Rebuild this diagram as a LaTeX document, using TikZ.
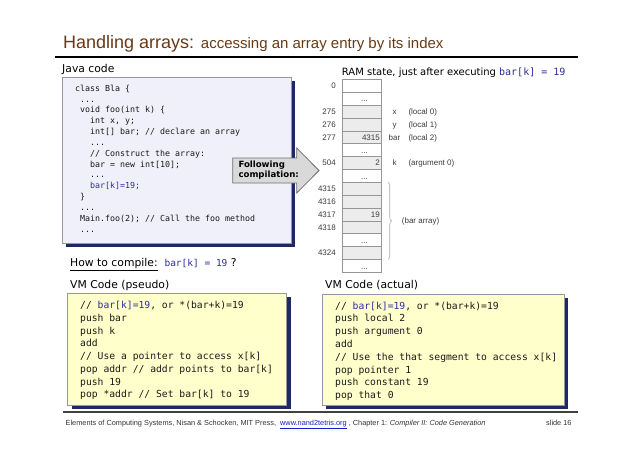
\documentclass[tikz,border=0pt]{standalone}
\usepackage{fontspec}
\setmainfont{Liberation Sans}
\newfontfamily\comicf{DejaVu Sans}
\newfontfamily\monof{DejaVu Sans Mono}
\usetikzlibrary{decorations.pathreplacing}
\newcommand\threedots{...}
\definecolor{titlebrown}{RGB}{105,58,22}
\definecolor{codeblue}{RGB}{45,45,150}
\definecolor{javafill}{RGB}{240,240,250}
\definecolor{yelfill}{RGB}{255,255,204}
\definecolor{navy}{RGB}{30,40,100}
\definecolor{boxborder}{RGB}{150,150,165}
\definecolor{cellg}{RGB}{236,236,236}
\definecolor{cellb}{RGB}{150,150,150}
\definecolor{ramtext}{RGB}{60,60,60}
\definecolor{linkblue}{RGB}{30,30,200}
\definecolor{arrowfill}{RGB}{217,217,217}
\definecolor{arrowdraw}{RGB}{110,110,110}
\begin{document}
\begin{tikzpicture}[x=1pt,y=-1pt,
  txt/.style={inner sep=0pt, anchor=base west},
  comic/.style={txt, font=\comicf\fontsize{10.8}{13}\selectfont},
  jcode/.style={txt, text=black!90, font=\monof\fontsize{8.3}{10}\selectfont},
  vcode/.style={txt, text=black!90, font=\monof\fontsize{9.7}{12}\selectfont},
  ram/.style={inner sep=0pt, text=ramtext, font=\fontsize{8}{9.6}\selectfont},
  cell/.style={draw=cellb, line width=0.5pt, minimum width=38.6pt, minimum height=12.87pt, inner sep=0pt},
  shadowbox/.style={fill=navy, draw=none},
  codebox/.style={draw=boxborder, line width=0.8pt}
]
\useasboundingbox (0,0) rectangle (638,451);
\fill[white] (0,0) rectangle (638,451);

% Title
\node[txt, text=titlebrown] (title) at (63,48)
  {\fontsize{18}{21}\selectfont Handling arrays: \fontsize{15}{18}\selectfont accessing an array entry by its index};
\draw[line width=1.5pt] (55,57) -- (578,57);

% Java code
\node[comic] (javalbl) at (62,72) {Java code};
\fill[shadowbox] (66.2,80.8) rectangle (294.5,246.8);
\filldraw[codebox, fill=javafill] (62.7,77.3) rectangle (291,243.3);
\foreach \t [count=\i] in {
  {class Bla \{},
  {\hphantom{x}\threedots},
  {\hphantom{x}void foo(int k) \{},
  {\hphantom{xxx}int x, y;},
  {\hphantom{xxx}int[] bar; // declare an array},
  {\hphantom{xxx}\threedots},
  {\hphantom{xxx}// Construct the array:},
  {\hphantom{xxx}bar = new int[10];},
  {\hphantom{xxx}\threedots},
  {\hphantom{xxx}\textcolor{codeblue}{bar[k]=19;}},
  {\hphantom{x}\}},
  {\hphantom{x}\threedots},
  {\hphantom{x}Main.foo(2); // Call the foo method},
  {\hphantom{x}\threedots}}
  \node[jcode] (j\i) at (75,{91.3+(\i-1)*10.83}) {\t};

% Arrow
\filldraw[fill=arrowfill, draw=arrowdraw, line width=0.8pt]
  (232.7,158) -- (296.7,158) -- (296.7,148) -- (319,170.5) -- (296.7,193) -- (296.7,183) -- (232.7,183) -- cycle;
\node[txt, anchor=north west, align=left, font=\comicf\bfseries\fontsize{8.6}{10.7}\selectfont] (follow) at (238.3,160.5)
  {Following\\compilation:};

% RAM state
\node[txt, font=\comicf\fontsize{10}{12}\selectfont] (ramlbl) at (341.7,75.2)
  {RAM state, just after executing \textcolor{codeblue}{\monof\fontsize{10}{12}\selectfont bar[k] = 19}};
\foreach \i/\f in {1/white,2/white,3/cellg,4/cellg,5/cellg,6/white,7/cellg,8/white,9/cellg,10/cellg,11/cellg,12/cellg,13/white,14/cellg,15/white}
  \node[cell, fill=\f] (m\i) at (362,{79.3+(\i-0.5)*12.87}) {};
\foreach \i/\a in {1/0,3/275,4/276,5/277,7/504,9/4315,10/4316,11/4317,12/4318,14/4324}
  \node[ram, anchor=base east] (a\i) at (336,{79.3+(\i-0.5)*12.87+2.9}) {\a};
\foreach \i in {2,6,8,13,15}
  \node[ram, anchor=base] (d\i) at (364.5,{79.3+(\i-0.5)*12.87+3.2}) {\threedots};
\node[ram, anchor=base east] (v5) at (380,{79.3+4.5*12.87+2.9}) {4315};
\node[ram, anchor=base east] (v7) at (380,{79.3+6.5*12.87+2.9}) {2};
\node[ram, anchor=base east] (v11) at (380,{79.3+10.5*12.87+2.9}) {19};
\foreach \i/\n/\d in {3/x/local 0,4/y/local 1,5/bar/local 2,7/k/argument 0} {
  \node[ram, anchor=base] (n\i) at (394.5,{79.3+(\i-0.5)*12.87+2.9}) {\n};
  \node[ram, anchor=base west] (c\i) at (408.3,{79.3+(\i-0.5)*12.87+2.9}) {(\d)};
}
\draw[cellb!80, line width=0.6pt, decorate, decoration={brace, amplitude=3.5pt}] (388,182.3) -- (388,259.5);
\node[ram, anchor=base west] (barr) at (401.7,223.9) {(bar array)};

% How to compile
\node[comic] (howto) at (70,266.8)
  {\underline{How to compile:}\ \ \textcolor{codeblue}{\monof\fontsize{9.5}{12}\selectfont bar[k] = 19}\ ?};

% VM pseudo
\node[comic] (pseudolbl) at (70,288.7) {VM Code (pseudo)};
\fill[shadowbox] (71.7,297.3) rectangle (290.7,409);
\filldraw[codebox, fill=yelfill] (67.7,293.3) rectangle (286.7,405);
\foreach \t [count=\i] in {
  {// \textcolor{codeblue}{bar[k]=19}, or *(bar+k)=19},
  {push bar},
  {push k},
  {add},
  {// Use a pointer to access x[k]},
  {pop addr // addr points to bar[k]},
  {push 19},
  {pop *addr // Set bar[k] to 19}}
  \node[vcode] (p\i) at (80,{308.7+(\i-1)*12.75}) {\t};

% VM actual
\node[comic] (actuallbl) at (325,288.7) {VM Code (actual)};
\fill[shadowbox] (326.3,298) rectangle (568,409);
\filldraw[codebox, fill=yelfill] (322.3,294) rectangle (564,405);
\foreach \t [count=\i] in {
  {// \textcolor{codeblue}{bar[k]=19}, or *(bar+k)=19},
  {push local 2},
  {push argument 0},
  {add},
  {// Use the that segment to access x[k]},
  {pop pointer 1},
  {push constant 19},
  {pop that 0}}
  \node[vcode] (q\i) at (335,{309.2+(\i-1)*12.76}) {\t};

% Footer
\draw[line width=1.2pt, black!75] (63,412) -- (578,412);
\node[txt, font=\fontsize{7.35}{8.8}\selectfont, text=black!80] (footer) at (65.5,425.5)
  {Elements of Computing Systems, Nisan \& Schocken, MIT Press,\ \ \textcolor{linkblue}{\underline{www.nand2tetris.org}} , Chapter 1: \textit{Compiler II: Code Generation}};
\node[txt, font=\fontsize{7.35}{8.8}\selectfont, text=black!80] (slide) at (546,425.5) {slide 16};
\end{tikzpicture}
\end{document}
